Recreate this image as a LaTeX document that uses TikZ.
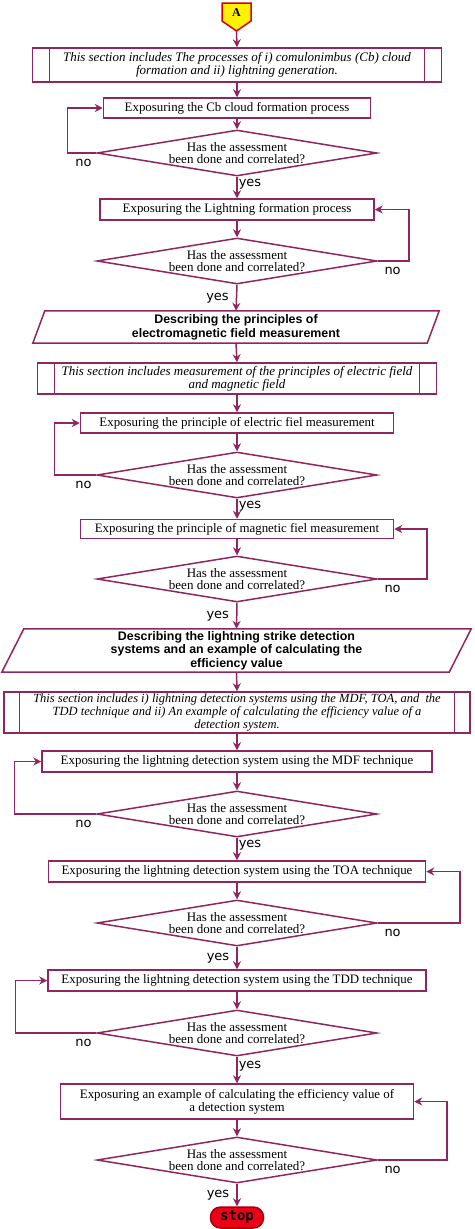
\documentclass[tikz,border=0pt]{standalone}
\usepackage{fontspec}
\setmainfont{Liberation Serif}
\newfontfamily\headfont{Liberation Sans}
\newfontfamily\answerfont{DejaVu Sans}
\newfontfamily\stopfont{DejaVu Sans Mono}
\usepackage{xcolor}
\usepackage{tikz}
\usetikzlibrary{arrows.meta,shapes.geometric,positioning}
\definecolor{flowline}{RGB}{144,38,94}
\definecolor{stopred}{RGB}{236,0,22}

\begin{document}
\begin{tikzpicture}[
	x=1pt,y=-1pt,
	line/.style={draw=flowline,line width=1.5pt},
	arr/.style={line,-{Stealth[length=8pt,width=8pt]}},
	proc/.style={rectangle,draw=flowline,line width=1.5pt,inner sep=0pt,align=center,font=\fontsize{12.9}{13}\selectfont},
	subproc/.style={proc,font=\fontsize{13}{13}\selectfont\itshape,
		path picture={
			\draw[line] ([xshift=#1]path picture bounding box.north west) -- ([xshift=#1]path picture bounding box.south west);
			\draw[line] ([xshift=-#1]path picture bounding box.north east) -- ([xshift=-#1]path picture bounding box.south east);
		}},
	subproc/.default=17pt,
	decision/.style={diamond,draw=flowline,line width=1.5pt,aspect=6.1,inner sep=0pt,minimum width=280pt,minimum height=46pt,align=center,font=\fontsize{13}{12.5}\selectfont},
	io/.style={rectangle,inner sep=0pt,align=center,font=\fontsize{12.4}{13.7}\selectfont\headfont\bfseries},
	ans/.style={inner sep=1pt,font=\fontsize{13}{13}\selectfont\answerfont},
	noL/.style={ans,pos=0,below left,xshift=-3pt,yshift=-4pt},
	noR/.style={ans,pos=0,below right,xshift=5pt,yshift=-4pt}
]
	\useasboundingbox (0,0) rectangle (474,1229);

	\draw[fill=yellow,draw=red!85!black,line width=1.5pt] (222,3) -- (251,3) -- (251,21) -- (236.5,31) -- (222,21) -- cycle;
	\node[inner sep=0pt,font=\fontsize{12}{12}\selectfont\bfseries] (A) at (236.5,13) {A};
	\coordinate (Atip) at (236.5,31);

	\node[subproc,minimum width=409pt,minimum height=34pt] (b1) at (237,65) {This section includes The processes of i) comulonimbus (Cb) cloud\\formation and ii) lightning generation.};
	\node[proc,minimum width=267pt,minimum height=20pt] (b2) at (237,108) {Exposuring the Cb cloud formation process};
	\node[decision] (d1) at (237,153) {Has the assessment\\been done and correlated?};
	\node[proc,minimum width=274pt,minimum height=21pt] (b3) at (237,209.5) {Exposuring the Lightning formation process};
	\node[decision] (d2) at (237,261) {Has the assessment\\been done and correlated?};

	\node[io,minimum width=406pt,minimum height=32pt] (p1) at (236,327) {Describing the principles of\\electromagnetic field measurement};
	\draw[line] ([xshift=12pt]p1.north west) -- (p1.north east) -- ([xshift=-12pt]p1.south east) -- (p1.south west) -- cycle;

	\node[subproc,minimum width=399pt,minimum height=31pt] (b4) at (237,378.5) {This section includes measurement of the principles of electric field\\and magnetic field};
	\node[proc,minimum width=313pt,minimum height=20pt] (b5) at (237,423) {Exposuring the principle of electric fiel measurement};
	\node[decision] (d3) at (237,475) {Has the assessment\\been done and correlated?};
	\node[proc,minimum width=313pt,minimum height=19pt] (b6) at (237,529) {Exposuring the principle of magnetic fiel measurement};
	\node[decision] (d4) at (237,579) {Has the assessment\\been done and correlated?};

	\node[io,minimum width=469pt,minimum height=43pt] (p2) at (236.5,650.5) {Describing the lightning strike detection\\systems and an example of calculating the\\efficiency value};
	\draw[line] ([xshift=22pt]p2.north west) -- (p2.north east) -- ([xshift=-22pt]p2.south east) -- (p2.south west) -- cycle;

	\node[subproc=15.5pt,minimum width=466pt,minimum height=41pt,font=\fontsize{12.5}{13}\selectfont\itshape] (b7) at (237,712.5) {This section includes i) lightning detection systems using the MDF, TOA, and\ \ the\\TDD technique and ii) An example of calculating the efficiency value of a\\detection system.};
	\node[proc,minimum width=390pt,minimum height=21pt] (b8) at (237,761.5) {Exposuring the lightning detection system using the MDF technique};
	\node[decision] (d5) at (237,814) {Has the assessment\\been done and correlated?};
	\node[proc,minimum width=377pt,minimum height=21pt] (b9) at (237,871.5) {Exposuring the lightning detection system using the TOA technique};
	\node[decision] (d6) at (237,923) {Has the assessment\\been done and correlated?};
	\node[proc,minimum width=378pt,minimum height=21pt] (b10) at (237,980.5) {Exposuring the lightning detection system using the TDD technique};
	\node[decision] (d7) at (237,1033) {Has the assessment\\been done and correlated?};
	\node[proc,minimum width=353pt,minimum height=35pt] (b11) at (237,1101.5) {Exposuring an example of calculating the efficiency value of\\a detection system};
	\node[decision] (d8) at (237,1160) {Has the assessment\\been done and correlated?};
	\node[rectangle,rounded corners=10pt,draw=stopred!70!black,fill=stopred,line width=1.5pt,minimum width=53pt,minimum height=21pt,inner sep=0pt,font=\fontsize{14}{14}\selectfont\stopfont\bfseries] (stop) at (237,1217.5) {stop};

	\draw[arr] (Atip) -- (b1.north);
	\draw[arr] (b1.south) -- (b2.north);
	\draw[arr] (b2.south) -- (d1.north);
	\draw[arr] (d1.south) -- node[ans,pos=0.35,right]{yes} (b3.north);
	\draw[arr] (b3.south) -- (d2.north);
	\draw[arr] (d2.south) -- node[ans,left=6pt]{yes} (p1.north);
	\draw[arr] (p1.south) -- (b4.north);
	\draw[arr] (b4.south) -- (b5.north);
	\draw[arr] (b5.south) -- (d3.north);
	\draw[arr] (d3.south) -- node[ans,pos=0.35,right]{yes} (b6.north);
	\draw[arr] (b6.south) -- (d4.north);
	\draw[arr] (d4.south) -- node[ans,left=6pt]{yes} (p2.north);
	\draw[arr] (p2.south) -- (b7.north);
	\draw[arr] (b7.south) -- (b8.north);
	\draw[arr] (b8.south) -- (d5.north);
	\draw[arr] (d5.south) -- node[ans,pos=0.35,right]{yes} (b9.north);
	\draw[arr] (b9.south) -- (d6.north);
	\draw[arr] (d6.south) -- node[ans,left=6pt]{yes} (b10.north);
	\draw[arr] (b10.south) -- (d7.north);
	\draw[arr] (d7.south) -- node[ans,pos=0.35,right]{yes} (b11.north);
	\draw[arr] (b11.south) -- (d8.north);
	\draw[arr] (d8.south) -- node[ans,left=6pt]{yes} (stop.north);

	\draw[arr] (d1.west) -- node[noL]{no} ++(-29,0) |- (b2.west);
	\draw[arr] (d2.east) -- node[noR]{no} ++(31,0) |- (b3.east);
	\draw[arr] (d3.west) -- node[noL]{no} ++(-42,0) |- (b5.west);
	\draw[arr] (d4.east) -- node[noR]{no} ++(49,0) |- (b6.east);
	\draw[arr] (d5.west) -- node[noL]{no} ++(-82,0) |- (b8.west);
	\draw[arr] (d6.east) -- node[noR]{no} ++(82,0) |- (b9.east);
	\draw[arr] (d7.west) -- node[noL]{no} ++(-81,0) |- (b10.west);
	\draw[arr] (d8.east) -- node[noR]{no} ++(69,0) |- (b11.east);
\end{tikzpicture}
\end{document}
